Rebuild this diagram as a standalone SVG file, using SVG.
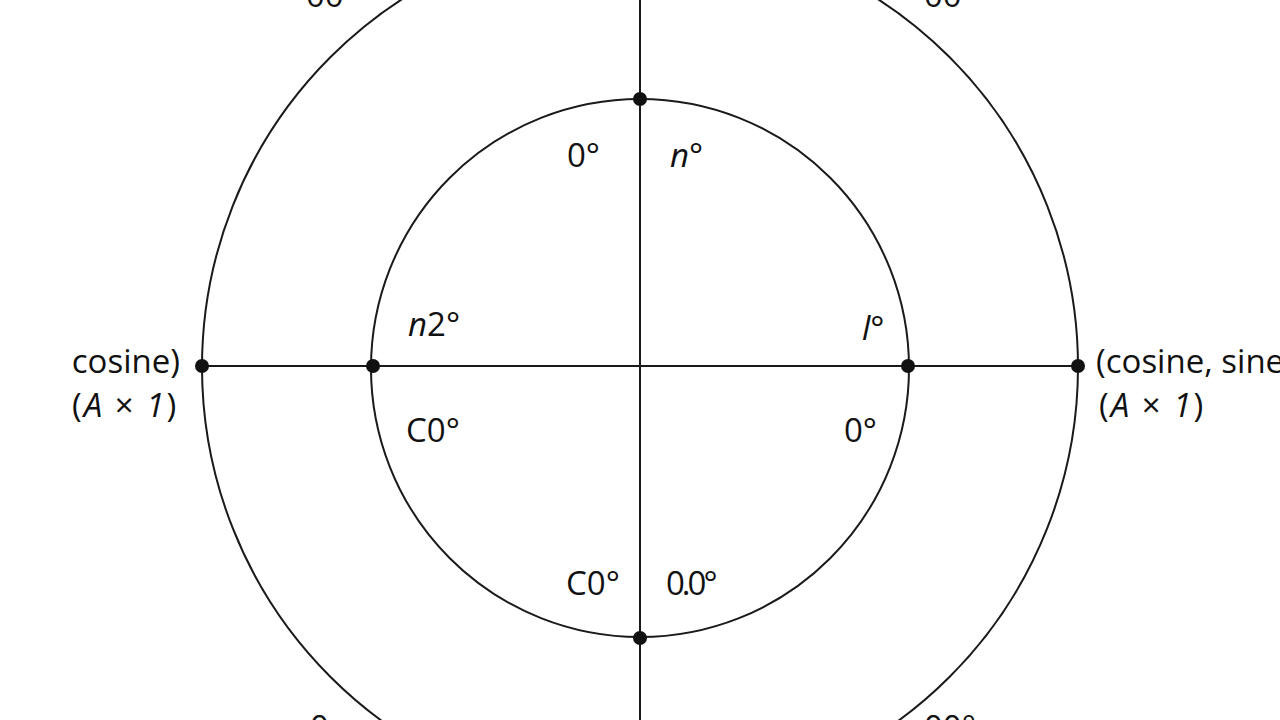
<svg xmlns="http://www.w3.org/2000/svg" width="1280" height="720" viewBox="0 0 1280 720">
<style>
.ln{fill:none;stroke:#1a1a1a;stroke-width:2}
.dot{fill:#111}
text{font-family:"Open Sans","Noto Sans","DejaVu Sans",sans-serif;font-size:33px;fill:#111}
.it{font-style:italic}
.sp{letter-spacing:2px}
</style>
<rect width="1280" height="720" fill="#ffffff"/>
<g id="connectors">
<circle class="ln" cx="640" cy="367" r="438"/>
<circle class="ln" cx="640" cy="368" r="269"/>
<line class="ln" x1="640" y1="0" x2="640" y2="720"/>
<line class="ln" x1="202" y1="366" x2="1078" y2="366"/>
</g>
<g id="node-top"><circle class="dot" cx="640" cy="99" r="7"/></g>
<g id="node-bottom"><circle class="dot" cx="640" cy="638" r="7"/></g>
<g id="node-inner-left"><circle class="dot" cx="373" cy="366" r="7"/></g>
<g id="node-inner-right"><circle class="dot" cx="908" cy="366" r="7"/></g>
<g id="node-outer-left"><circle class="dot" cx="202" cy="366" r="7"/>
<text x="180" y="373" text-anchor="end">cosine)</text>
<text x="72" y="417" class="sp">(<tspan class="it">A</tspan> × <tspan class="it">1</tspan>)</text>
</g>
<g id="node-outer-right"><circle class="dot" cx="1078" cy="366" r="7"/>
<text x="1096" y="373">(cosine, sine</text>
<text x="1099" y="417" class="sp">(<tspan class="it">A</tspan> × <tspan class="it">1</tspan>)</text>
</g>
<g id="labels">
<text x="567" y="167">0°</text>
<text x="670" y="167" class="it">n°</text>
<text x="408" y="336"><tspan class="it">n</tspan>2°</text>
<text x="862" y="340" class="it">l°</text>
<text x="406" y="442">C0°</text>
<text x="844" y="442">0°</text>
<text x="566" y="595">C0°</text>
<text x="666" y="595" letter-spacing="-3">0.0°</text>
<text x="306" y="7">00</text>
<text x="924" y="7">00</text>
<text x="310" y="739">0</text>
<text x="924" y="739">00°</text>
</g>
</svg>
